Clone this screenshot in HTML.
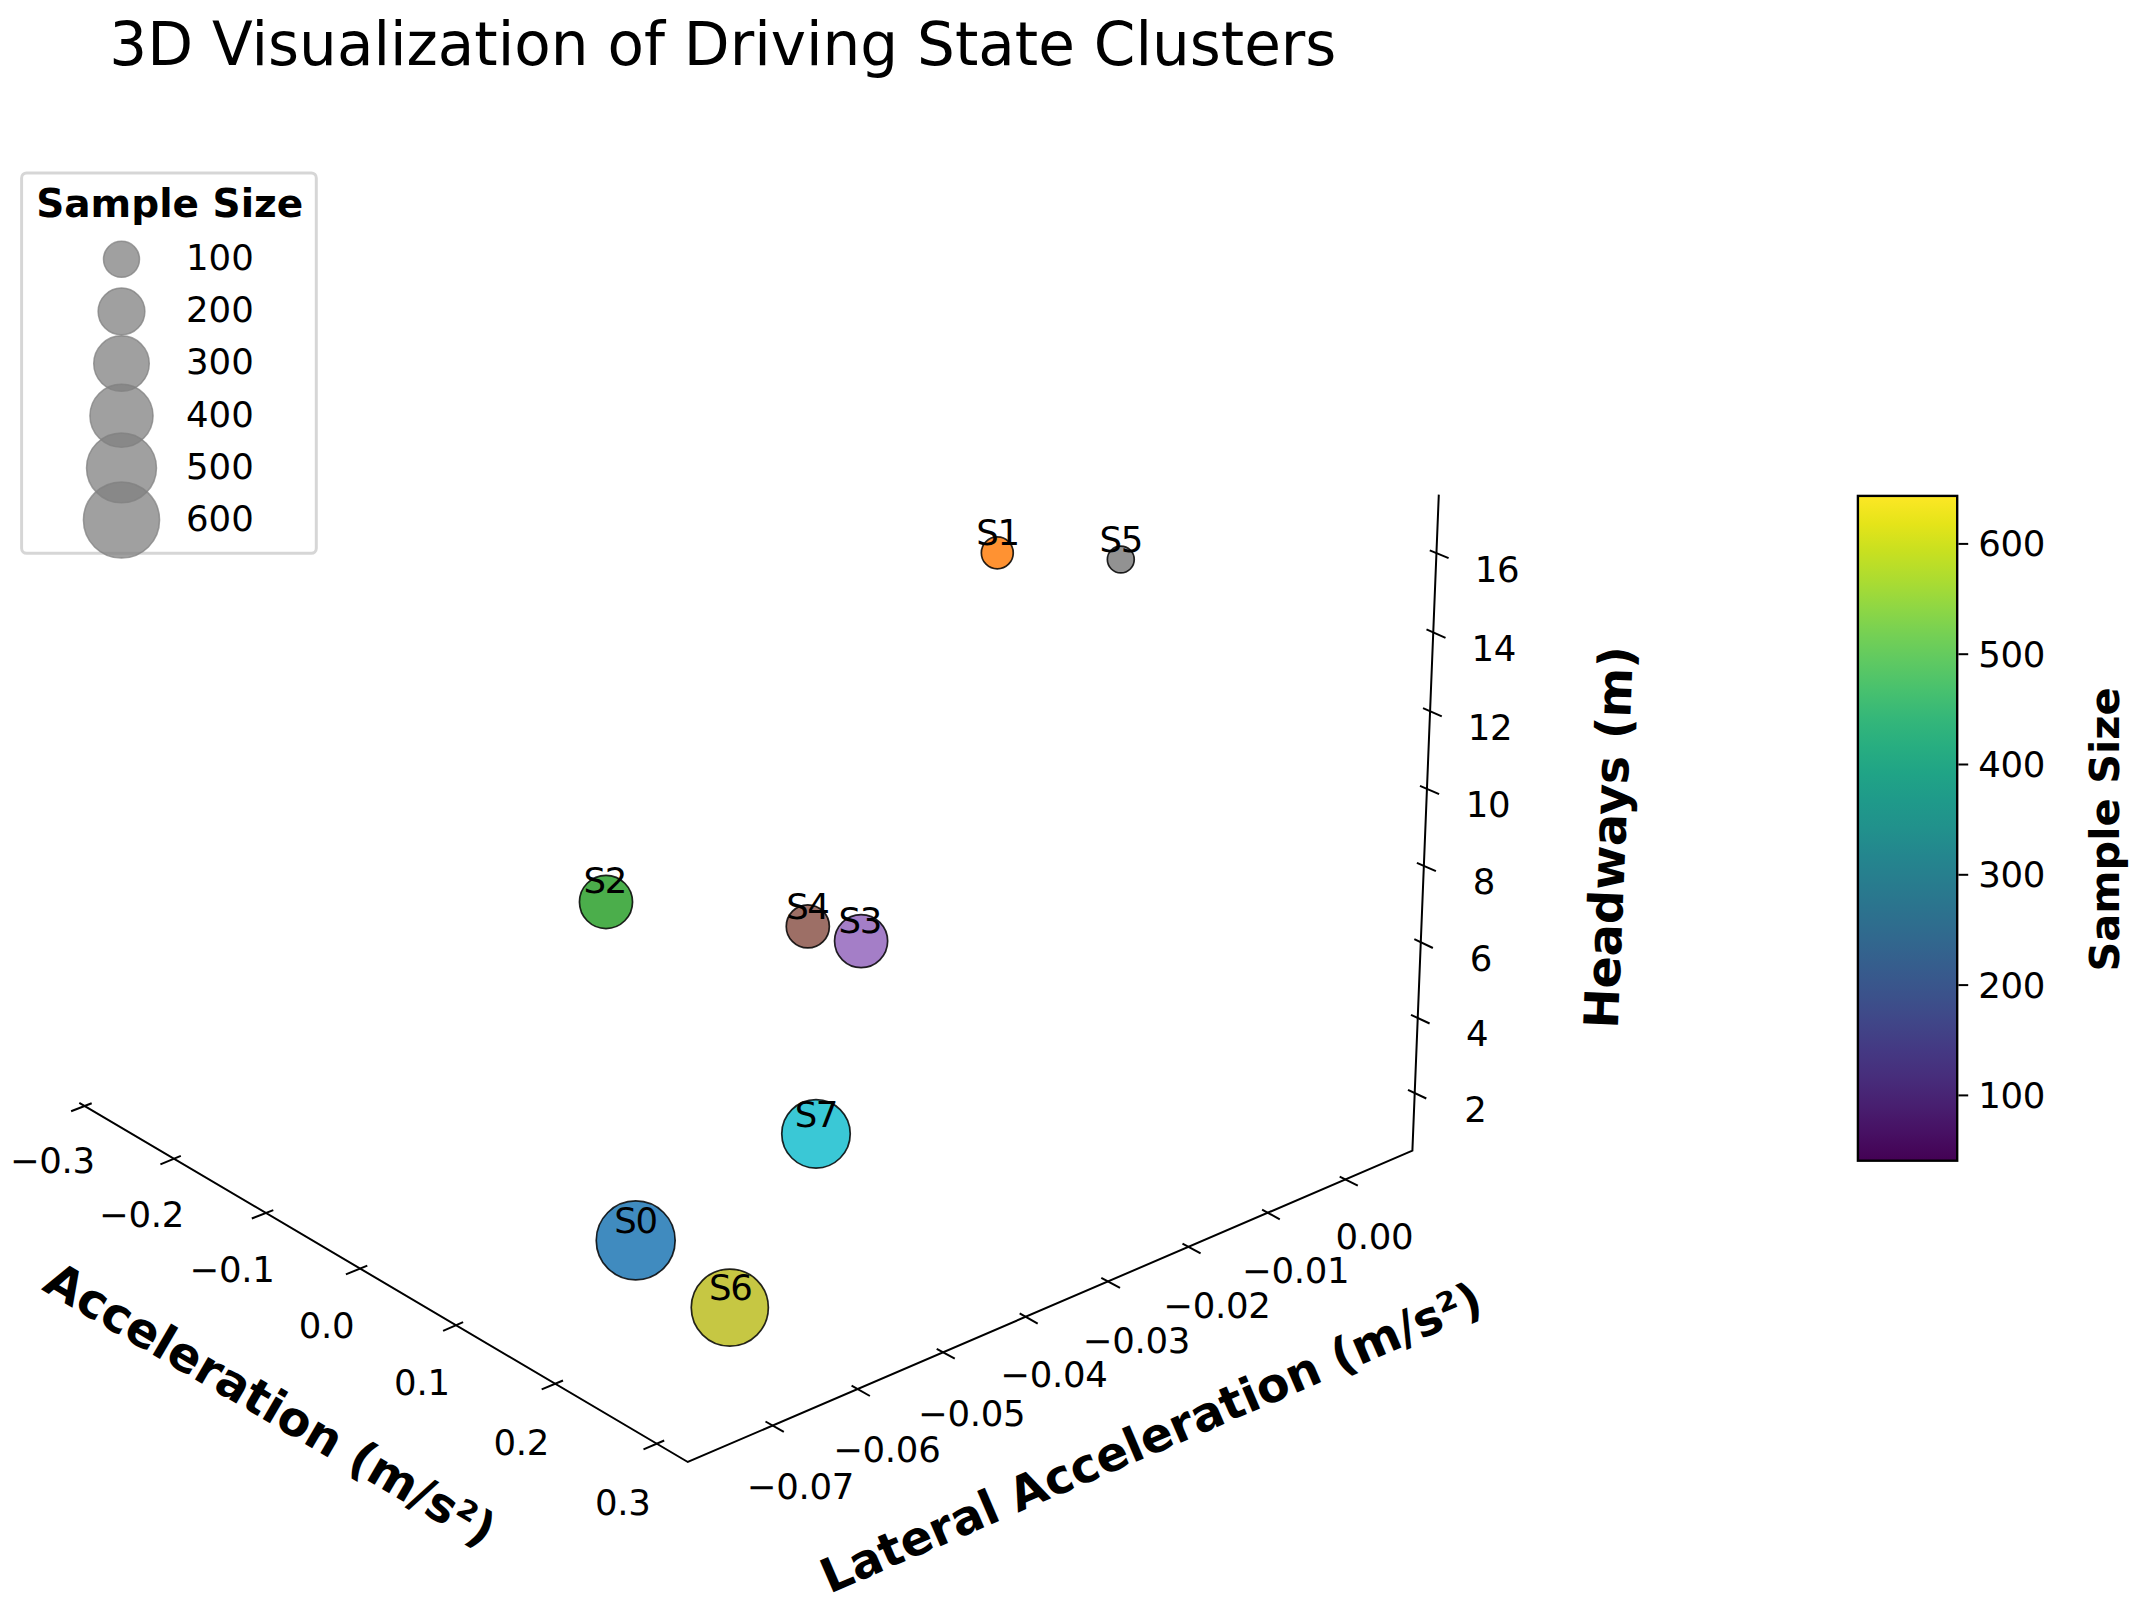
<!DOCTYPE html>
<html lang="en"><head><meta charset="utf-8"><title>3D Visualization of Driving State Clusters</title>
<style>html,body{margin:0;padding:0;background:#fff;}svg{display:block;}text{font-family:"DejaVu Sans","Liberation Sans",sans-serif;fill:#000;}.b{font-weight:bold;}</style>
</head><body>
<svg width="2137" height="1612" viewBox="0 0 2137 1612">
<defs><linearGradient id="vir" x1="0" y1="0" x2="0" y2="1"><stop offset="0.0000" stop-color="#fde725"/>
<stop offset="0.0417" stop-color="#e5e419"/>
<stop offset="0.0833" stop-color="#c8e020"/>
<stop offset="0.1250" stop-color="#addc30"/>
<stop offset="0.1667" stop-color="#90d743"/>
<stop offset="0.2083" stop-color="#75d054"/>
<stop offset="0.2500" stop-color="#5ec962"/>
<stop offset="0.2917" stop-color="#48c16e"/>
<stop offset="0.3333" stop-color="#35b779"/>
<stop offset="0.3750" stop-color="#28ae80"/>
<stop offset="0.4167" stop-color="#20a486"/>
<stop offset="0.4583" stop-color="#1f9a8a"/>
<stop offset="0.5000" stop-color="#21918c"/>
<stop offset="0.5417" stop-color="#24868e"/>
<stop offset="0.5833" stop-color="#287c8e"/>
<stop offset="0.6250" stop-color="#2c728e"/>
<stop offset="0.6667" stop-color="#31688e"/>
<stop offset="0.7083" stop-color="#365d8d"/>
<stop offset="0.7500" stop-color="#3b528b"/>
<stop offset="0.7917" stop-color="#404688"/>
<stop offset="0.8333" stop-color="#443983"/>
<stop offset="0.8750" stop-color="#472d7b"/>
<stop offset="0.9167" stop-color="#481f70"/>
<stop offset="0.9583" stop-color="#471063"/>
<stop offset="1.0000" stop-color="#440154"/>
</linearGradient></defs>
<rect x="0" y="0" width="2137" height="1612" fill="#ffffff"/>
<text x="722.85" y="64.7" font-size="59.6" text-anchor="middle">3D Visualization of Driving State Clusters</text>
<g stroke="#000" stroke-width="2.0" fill="none" stroke-linecap="butt">
<polyline points="79.3,1102.8 687.8,1462.0 1412.4,1150.6 1438.8,494.6" stroke-linejoin="miter"/>
<line x1="71.1" y1="1111.2" x2="91.7" y2="1103.2"/>
<line x1="160.4" y1="1164.4" x2="180.8" y2="1155.9"/>
<line x1="251.8" y1="1218.5" x2="273.3" y2="1210.1"/>
<line x1="345.9" y1="1274.4" x2="367.3" y2="1265.6"/>
<line x1="443.1" y1="1330.8" x2="463.1" y2="1322.2"/>
<line x1="541.7" y1="1389.4" x2="563.0" y2="1380.5"/>
<line x1="643.5" y1="1449.3" x2="664.2" y2="1440.5"/>
<line x1="765.5" y1="1421.5" x2="783.8" y2="1431.9"/>
<line x1="851.6" y1="1385.7" x2="869.9" y2="1396.0"/>
<line x1="936.7" y1="1348.8" x2="954.8" y2="1358.6"/>
<line x1="1019.7" y1="1313.4" x2="1037.7" y2="1323.6"/>
<line x1="1101.3" y1="1277.8" x2="1120.0" y2="1287.8"/>
<line x1="1182.5" y1="1243.6" x2="1200.6" y2="1253.4"/>
<line x1="1262.1" y1="1209.6" x2="1279.8" y2="1219.4"/>
<line x1="1339.7" y1="1176.6" x2="1357.8" y2="1185.6"/>
<line x1="1429.8" y1="550.3" x2="1448.6" y2="558.1"/>
<line x1="1426.5" y1="629.3" x2="1445.5" y2="637.9"/>
<line x1="1423.0" y1="708.2" x2="1441.8" y2="716.3"/>
<line x1="1420.0" y1="785.9" x2="1439.1" y2="794.2"/>
<line x1="1416.9" y1="862.8" x2="1435.9" y2="871.2"/>
<line x1="1414.3" y1="939.1" x2="1432.9" y2="948.0"/>
<line x1="1411.0" y1="1014.8" x2="1429.6" y2="1023.5"/>
<line x1="1408.0" y1="1089.8" x2="1426.3" y2="1098.5"/>
</g>
<text x="52.4" y="1173.4" font-size="35.5" text-anchor="middle" letter-spacing="-0.3">−0.3</text>
<text x="141.6" y="1226.9" font-size="35.5" text-anchor="middle" letter-spacing="-0.3">−0.2</text>
<text x="232.1" y="1281.5" font-size="35.5" text-anchor="middle" letter-spacing="-0.3">−0.1</text>
<text x="326.5" y="1338.1" font-size="35.5" text-anchor="middle" letter-spacing="-0.3">0.0</text>
<text x="421.9" y="1394.9" font-size="35.5" text-anchor="middle" letter-spacing="-0.3">0.1</text>
<text x="521.2" y="1454.9" font-size="35.5" text-anchor="middle" letter-spacing="-0.3">0.2</text>
<text x="622.8" y="1514.8" font-size="35.5" text-anchor="middle" letter-spacing="-0.3">0.3</text>
<text x="800.5" y="1499.4" font-size="35.5" text-anchor="middle" letter-spacing="-0.3">−0.07</text>
<text x="886.8" y="1462.0" font-size="35.5" text-anchor="middle" letter-spacing="-0.3">−0.06</text>
<text x="971.6" y="1425.5" font-size="35.5" text-anchor="middle" letter-spacing="-0.3">−0.05</text>
<text x="1054.0" y="1387.4" font-size="35.5" text-anchor="middle" letter-spacing="-0.3">−0.04</text>
<text x="1136.5" y="1353.0" font-size="35.5" text-anchor="middle" letter-spacing="-0.3">−0.03</text>
<text x="1217.0" y="1317.7" font-size="35.5" text-anchor="middle" letter-spacing="-0.3">−0.02</text>
<text x="1295.7" y="1283.4" font-size="35.5" text-anchor="middle" letter-spacing="-0.3">−0.01</text>
<text x="1374.4" y="1249.0" font-size="35.5" text-anchor="middle" letter-spacing="-0.3">0.00</text>
<text x="1497.0" y="582.0" font-size="35.5" text-anchor="middle" letter-spacing="-0.3">16</text>
<text x="1493.8" y="661.0" font-size="35.5" text-anchor="middle" letter-spacing="-0.3">14</text>
<text x="1490.0" y="739.9" font-size="35.5" text-anchor="middle" letter-spacing="-0.3">12</text>
<text x="1488.0" y="816.9" font-size="35.5" text-anchor="middle" letter-spacing="-0.3">10</text>
<text x="1483.9" y="894.1" font-size="35.5" text-anchor="middle" letter-spacing="-0.3">8</text>
<text x="1480.8" y="971.2" font-size="35.5" text-anchor="middle" letter-spacing="-0.3">6</text>
<text x="1477.2" y="1046.4" font-size="35.5" text-anchor="middle" letter-spacing="-0.3">4</text>
<text x="1475.3" y="1121.9" font-size="35.5" text-anchor="middle" letter-spacing="-0.3">2</text>
<text class="b" font-size="47.7" text-anchor="middle" transform="translate(262.0,1418.8) rotate(30.35)">Acceleration (m/s²)</text>
<text class="b" font-size="47.4" text-anchor="middle" transform="translate(1157.5,1452.6) rotate(-23.3)">Lateral Acceleration (m/s²)</text>
<text class="b" font-size="47.7" text-anchor="middle" transform="translate(1625.5,837.8) rotate(-87.7)">Headways (m)</text>
<circle cx="997.3" cy="552.9" r="15.95" fill="#ff7f0e" fill-opacity="0.85" stroke="#000" stroke-opacity="0.85" stroke-width="1.7"/>
<circle cx="1120.8" cy="559.5" r="13.45" fill="#7f7f7f" fill-opacity="0.85" stroke="#000" stroke-opacity="0.85" stroke-width="1.7"/>
<circle cx="606.0" cy="902.0" r="26.55" fill="#2ca02c" fill-opacity="0.85" stroke="#000" stroke-opacity="0.85" stroke-width="1.7"/>
<circle cx="807.8" cy="926.4" r="21.55" fill="#8c564b" fill-opacity="0.85" stroke="#000" stroke-opacity="0.85" stroke-width="1.7"/>
<circle cx="861.1" cy="941.1" r="26.55" fill="#9467bd" fill-opacity="0.85" stroke="#000" stroke-opacity="0.85" stroke-width="1.7"/>
<circle cx="816.0" cy="1133.8" r="34.25" fill="#17becf" fill-opacity="0.85" stroke="#000" stroke-opacity="0.85" stroke-width="1.7"/>
<circle cx="635.7" cy="1240.4" r="39.45" fill="#1f77b4" fill-opacity="0.85" stroke="#000" stroke-opacity="0.85" stroke-width="1.7"/>
<circle cx="729.8" cy="1307.6" r="38.55" fill="#bcbd22" fill-opacity="0.85" stroke="#000" stroke-opacity="0.85" stroke-width="1.7"/>
<text x="997.5" y="545.0" font-size="35.5" text-anchor="middle" letter-spacing="-1.3">S1</text>
<text x="1120.7" y="551.5" font-size="35.5" text-anchor="middle" letter-spacing="-1.3">S5</text>
<text x="604.7" y="892.7" font-size="35.5" text-anchor="middle" letter-spacing="-1.3">S2</text>
<text x="807.4" y="918.5" font-size="35.5" text-anchor="middle" letter-spacing="-1.3">S4</text>
<text x="859.8" y="932.8" font-size="35.5" text-anchor="middle" letter-spacing="-1.3">S3</text>
<text x="815.9" y="1126.5" font-size="35.5" text-anchor="middle" letter-spacing="-1.3">S7</text>
<text x="635.5" y="1233.2" font-size="35.5" text-anchor="middle" letter-spacing="-1.3">S0</text>
<text x="730.2" y="1299.8" font-size="35.5" text-anchor="middle" letter-spacing="-1.3">S6</text>
<rect x="21.6" y="172.9" width="294.7" height="380.4" rx="5" ry="5" fill="#fff" fill-opacity="0.8" stroke="#cccccc" stroke-opacity="0.8" stroke-width="2.96"/>
<text class="b" x="169.7" y="217.3" font-size="39.0" text-anchor="middle">Sample Size</text>
<circle cx="121.5" cy="259.30" r="17.98" fill="#808080" fill-opacity="0.75" stroke="#808080" stroke-opacity="0.75" stroke-width="1.5"/>
<text x="186.0" y="270.1" font-size="35.5">100</text>
<circle cx="121.5" cy="311.45" r="23.37" fill="#808080" fill-opacity="0.75" stroke="#808080" stroke-opacity="0.75" stroke-width="1.5"/>
<text x="186.0" y="322.2" font-size="35.5">200</text>
<circle cx="121.5" cy="363.60" r="27.76" fill="#808080" fill-opacity="0.75" stroke="#808080" stroke-opacity="0.75" stroke-width="1.5"/>
<text x="186.0" y="374.4" font-size="35.5">300</text>
<circle cx="121.5" cy="415.75" r="31.56" fill="#808080" fill-opacity="0.75" stroke="#808080" stroke-opacity="0.75" stroke-width="1.5"/>
<text x="186.0" y="426.6" font-size="35.5">400</text>
<circle cx="121.5" cy="467.90" r="34.96" fill="#808080" fill-opacity="0.75" stroke="#808080" stroke-opacity="0.75" stroke-width="1.5"/>
<text x="186.0" y="478.7" font-size="35.5">500</text>
<circle cx="121.5" cy="520.05" r="38.06" fill="#808080" fill-opacity="0.75" stroke="#808080" stroke-opacity="0.75" stroke-width="1.5"/>
<text x="186.0" y="530.8" font-size="35.5">600</text>
<rect x="1857.9" y="495.9" width="99.3" height="664.8" fill="url(#vir)" stroke="#000" stroke-width="2.37"/>
<g stroke="#000" stroke-width="2.0">
<line x1="1958.4" y1="543.9" x2="1968.2" y2="543.9"/>
<line x1="1958.4" y1="654.2" x2="1968.2" y2="654.2"/>
<line x1="1958.4" y1="764.5" x2="1968.2" y2="764.5"/>
<line x1="1958.4" y1="874.8" x2="1968.2" y2="874.8"/>
<line x1="1958.4" y1="985.1" x2="1968.2" y2="985.1"/>
<line x1="1958.4" y1="1095.4" x2="1968.2" y2="1095.4"/>
</g>
<text letter-spacing="-0.3" x="1978.3" y="556.4" font-size="35.5">600</text>
<text letter-spacing="-0.3" x="1978.3" y="666.7" font-size="35.5">500</text>
<text letter-spacing="-0.3" x="1978.3" y="777.0" font-size="35.5">400</text>
<text letter-spacing="-0.3" x="1978.3" y="887.3" font-size="35.5">300</text>
<text letter-spacing="-0.3" x="1978.3" y="997.6" font-size="35.5">200</text>
<text letter-spacing="-0.3" x="1978.3" y="1107.9" font-size="35.5">100</text>
<text class="b" font-size="41.5" text-anchor="middle" transform="translate(2119.3,829.5) rotate(-90)">Sample Size</text>
</svg></body></html>
